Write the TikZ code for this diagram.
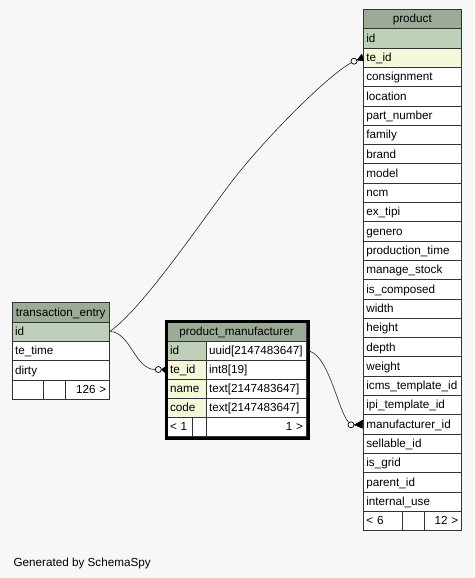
\documentclass[tikz,border=0pt]{standalone}
\usepackage{fontspec}
\setmainfont{Liberation Sans}
\definecolor{bgc}{HTML}{F7F7F7}
\definecolor{hdr}{HTML}{9BAB96}
\definecolor{pkc}{HTML}{BED1B8}
\definecolor{idx}{HTML}{F4F7DA}
\newcommand\tf{\fontsize{11.7pt}{14pt}\selectfont}
\begin{document}
\begin{tikzpicture}[x=1pt,y=-1pt,
  cell/.style={draw=black!80, line width=0.6pt, anchor=north west, inner xsep=3pt, inner ysep=0pt,
    font=\tf, align=left, fill=white, text height=9.6pt, text depth=1.6pt, minimum height=19.3pt},
  hd/.style={cell, fill=hdr, align=center},
  pk/.style={fill=pkc},
  ix/.style={fill=idx},
  rt/.style={align=right},
  rowpm/.style={minimum height=19pt},
  wP/.style={text width=92pt},
  wT/.style={text width=91.3pt},
  edge/.style={draw=black!85, line width=0.6pt},
  odot/.style={circle, draw=black, line width=0.7pt, fill=bgc, minimum size=6pt, inner sep=0pt},
  crow/.style={fill=black, draw=black, line width=0.5pt, line join=round},
  frame/.style={draw=black, line width=3pt, anchor=north west, inner sep=0pt, minimum width=141.8pt, minimum height=117pt}
]
\useasboundingbox (0,0) rectangle (474,578);
\fill[bgc] (0,0) rectangle (474,578);

% ---------------- product ----------------
\node[hd, wP] (p-hd) at (363,9) {product};
\node[cell, wP, pk] (p-id) at (363,28.3) {id};
\node[cell, wP, ix] (p-teid) at (363,47.6) {te\_id};
\foreach \t [count=\i] in {consignment, location, part\_number, family, brand, model, ncm, ex\_tipi, genero,
  production\_time, manage\_stock, is\_composed, width, height, depth, weight, icms\_template\_id,
  ipi\_template\_id, manufacturer\_id, sellable\_id, is\_grid, parent\_id, internal\_use}
  \node[cell, wP] (p-r\i) at (363,{9+(\i+2)*19.3}) {\t};
\node[cell, text width=33pt] (p-f1) at (363,510.8) {< 6};
\node[cell, text width=16pt] (p-f2) at (402,510.8) {};
\node[cell, text width=31pt, rt] (p-f3) at (424,510.8) {12 >};

% ---------------- transaction_entry ----------------
\node[hd, wT] (t-hd) at (11.7,302.3) {transaction\_entry};
\node[cell, wT, pk] (te-id) at (11.7,321.6) {id};
\node[cell, wT] (t-time) at (11.7,340.9) {te\_time};
\node[cell, wT] (t-dirty) at (11.7,360.2) {dirty};
\node[cell, text width=25.3pt] (t-f1) at (11.7,379.5) {};
\node[cell, text width=16pt] (t-f2) at (43,379.5) {};
\node[cell, text width=38pt, rt] (t-f3) at (65,379.5) {126 >};

% ---------------- edges ----------------
\coordinate (am) at (233,180);
\node[odot] (ca) at (354,61.2) {};
\node[odot] (cb) at (158.3,369.5) {};
\node[odot] (cc) at (351,424.8) {};
\draw[edge] (te-id.east) .. controls (142.6,309) and (202.5,219.5) .. (am)
  .. controls (263.5,140.5) and (325.1,77.4) .. (ca.209);
\draw[edge] (te-id.east) .. controls (130,331.2) and (135,369.5) .. (cb.west);

% ---------------- product_manufacturer ----------------
\node[hd, rowpm, text width=133pt] (pm-hd) at (166.7,322) {product\_manufacturer};
\node[cell, rowpm, text width=33pt, pk] (pm-id) at (166.7,341) {id};
\node[cell, rowpm, text width=94pt] (pm-idt) at (205.7,341) {uuid[2147483647]};
\node[cell, rowpm, text width=33pt, ix] (pm-teid) at (166.7,360) {te\_id};
\node[cell, rowpm, text width=94pt] (pm-teidt) at (205.7,360) {int8[19]};
\node[cell, rowpm, text width=33pt, ix] (pm-name) at (166.7,379) {name};
\node[cell, rowpm, text width=94pt] (pm-namet) at (205.7,379) {text[2147483647]};
\node[cell, rowpm, text width=33pt, ix] (pm-code) at (166.7,398) {code};
\node[cell, rowpm, text width=94pt] (pm-codet) at (205.7,398) {text[2147483647]};
\node[cell, rowpm, text width=19pt] (pm-f1) at (166.7,417) {< 1};
\node[cell, rowpm, text width=8pt] (pm-f2) at (191.7,417) {};
\node[cell, rowpm, text width=94pt, rt] (pm-f3) at (205.7,417) {1 >};
\node[frame] (pm-frame) at (164.9,320.3) {};

\draw[edge] (pm-idt.east) .. controls (328,350.5) and (338,411) .. (cc.135);

% crow's feet
\filldraw[crow] (ca.18) -- ([xshift=-1.2pt,yshift=3.4pt]p-teid.west) -- ([xshift=0.8pt,yshift=-3.4pt]p-teid.west) -- cycle;
\filldraw[crow] (cb.east) -- ([xshift=-0.5pt,yshift=3.8pt]pm-teid.west) -- ([xshift=-0.5pt,yshift=-3.8pt]pm-teid.west) -- cycle;
\filldraw[crow] (cc.east) -- ([xshift=-0.5pt,yshift=4pt]p-r19.west) -- ([xshift=-0.5pt,yshift=-4pt]p-r19.west) -- cycle;

\node[font=\tf, anchor=base west, inner sep=0pt] (gen) at (13.3,566.3) {Generated by SchemaSpy};
\end{tikzpicture}
\end{document}
